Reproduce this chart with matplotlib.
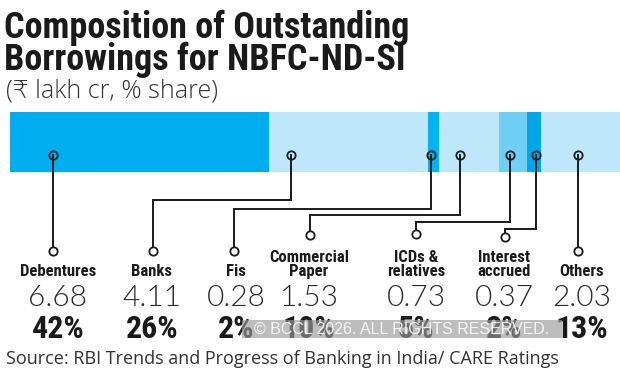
import os
import matplotlib
matplotlib.use("Agg")
import matplotlib.pyplot as plt
from matplotlib.patches import Rectangle
from matplotlib.font_manager import FontProperties
import numpy as np

categories = ["Debentures", "Banks", "Fis", "Commercial\nPaper", "ICDs &\nrelatives",
              "Interest\naccrued", "Others"]
amounts = [6.68, 4.11, 0.28, 1.53, 0.73, 0.37, 2.03]
shares = ["42%", "26%", "2%", "10%", "5%", "2%", "13%"]
colors = ["#00AEEF", "#BEE7F9", "#00B4F1", "#BEE7F9", "#6FCFF5", "#00A6E6", "#BEE7F9"]

W, H = 620, 384


def font(path, fallback_weight="bold", size=10):
    if os.path.exists(path):
        return FontProperties(fname=path, size=size)
    return FontProperties(family="DejaVu Sans", weight=fallback_weight, size=size)


RC_BOLD = "/usr/share/fonts/truetype/roboto/unhinted/RobotoCondensed-Bold.ttf"
LATO_LIGHT = "/usr/share/fonts/truetype/lato/Lato-Light.ttf"

fig = plt.figure(figsize=(W / 100, H / 100), dpi=100)

# stacked bar
bar_ax = fig.add_axes([10 / W, 1 - 172 / H, 610 / W, 60 / H])
lefts = np.concatenate([[0], np.cumsum(amounts)[:-1]])
bar_ax.barh(0, amounts, left=lefts, color=colors, height=1, edgecolor="none")
bar_ax.set_xlim(0, sum(amounts))
bar_ax.set_ylim(-0.5, 0.5)
bar_ax.axis("off")

# overlay in pixel coords
ax = fig.add_axes([0, 0, 1, 1], zorder=3)
ax.set_xlim(0, W)
ax.set_ylim(H, 0)
ax.axis("off")
ax.patch.set_alpha(0)

title_fp = font(RC_BOLD, size=26)
ax.text(4, 38, "Composition of Outstanding", fontproperties=title_fp, color="#1a1a1a",
        va="baseline")
ax.text(4, 70, "Borrowings for NBFC-ND-SI", fontproperties=title_fp, color="#1a1a1a",
        va="baseline")
ax.text(6, 98, "(\u20b9 lakh cr, % share)", fontsize=18, fontweight="light",
        family=["Open Sans", "DejaVu Sans"], color="#333333", va="baseline")

# connectors: (top x, bend y, bottom x, bottom y)
top_x = [53, 291, 431, 460, 510, 536, 578]
bend_y = [None, 200, 209, 215, 222, 229, None]
bot_x = [53, 153, 234, 310, 416, 505, 578]
bot_y = [251, 251, 251, 235, 234, 237, 251]
top_y = 155
for tx, by, bx, bty in zip(top_x, bend_y, bot_x, bot_y):
    if by is None:
        xs, ys = [tx, bx], [top_y, bty]
    else:
        xs, ys = [tx, tx, bx, bx], [top_y, by, by, bty]
    ax.plot(xs, ys, color="#1a1a1a", lw=1.4, solid_joinstyle="miter")
    ax.plot([tx], [top_y], "o", ms=6, mfc="none", mec="#1a1a1a", mew=1.3)
    ax.plot([bx], [bty], "o", ms=6, mfc="white", mec="#1a1a1a", mew=1.3)

label_fp = font(RC_BOLD, size=12)
value_fp = font(LATO_LIGHT, fallback_weight="light", size=21.5)
share_fp = font(RC_BOLD, size=23)
label_x = [58, 152, 236, 309, 416, 504, 582]
for lx, cat, amt, sh in zip(label_x, categories, amounts, shares):
    ax.text(lx, 276, cat, ha="center", va="baseline", fontproperties=label_fp,
            color="#1a1a1a", linespacing=0.9)
    ax.text(lx, 306, f"{amt:.2f}", ha="center", va="baseline", fontproperties=value_fp,
            color="#2b2b2b")
    ax.text(lx, 338, sh, ha="center", va="baseline", fontproperties=share_fp,
            color="#1a1a1a")

# watermark
ax.add_patch(Rectangle((242, 320), 320, 18, color="#9a9a9a", alpha=0.65, lw=0, zorder=4))
ax.text(402, 329.5, "\u00a9 BCCL 2026. ALL RIGHTS RESERVED.", ha="center", va="center",
        fontsize=11.5, color="white", family=["Liberation Sans", "DejaVu Sans"],
        zorder=5, alpha=0.85)

ax.text(6, 364, "Source: RBI Trends and Progress of Banking in India/ CARE Ratings",
        fontsize=13, family=["Open Sans", "DejaVu Sans"], color="#333333", va="baseline")

fig.savefig("out.png", dpi=100)
